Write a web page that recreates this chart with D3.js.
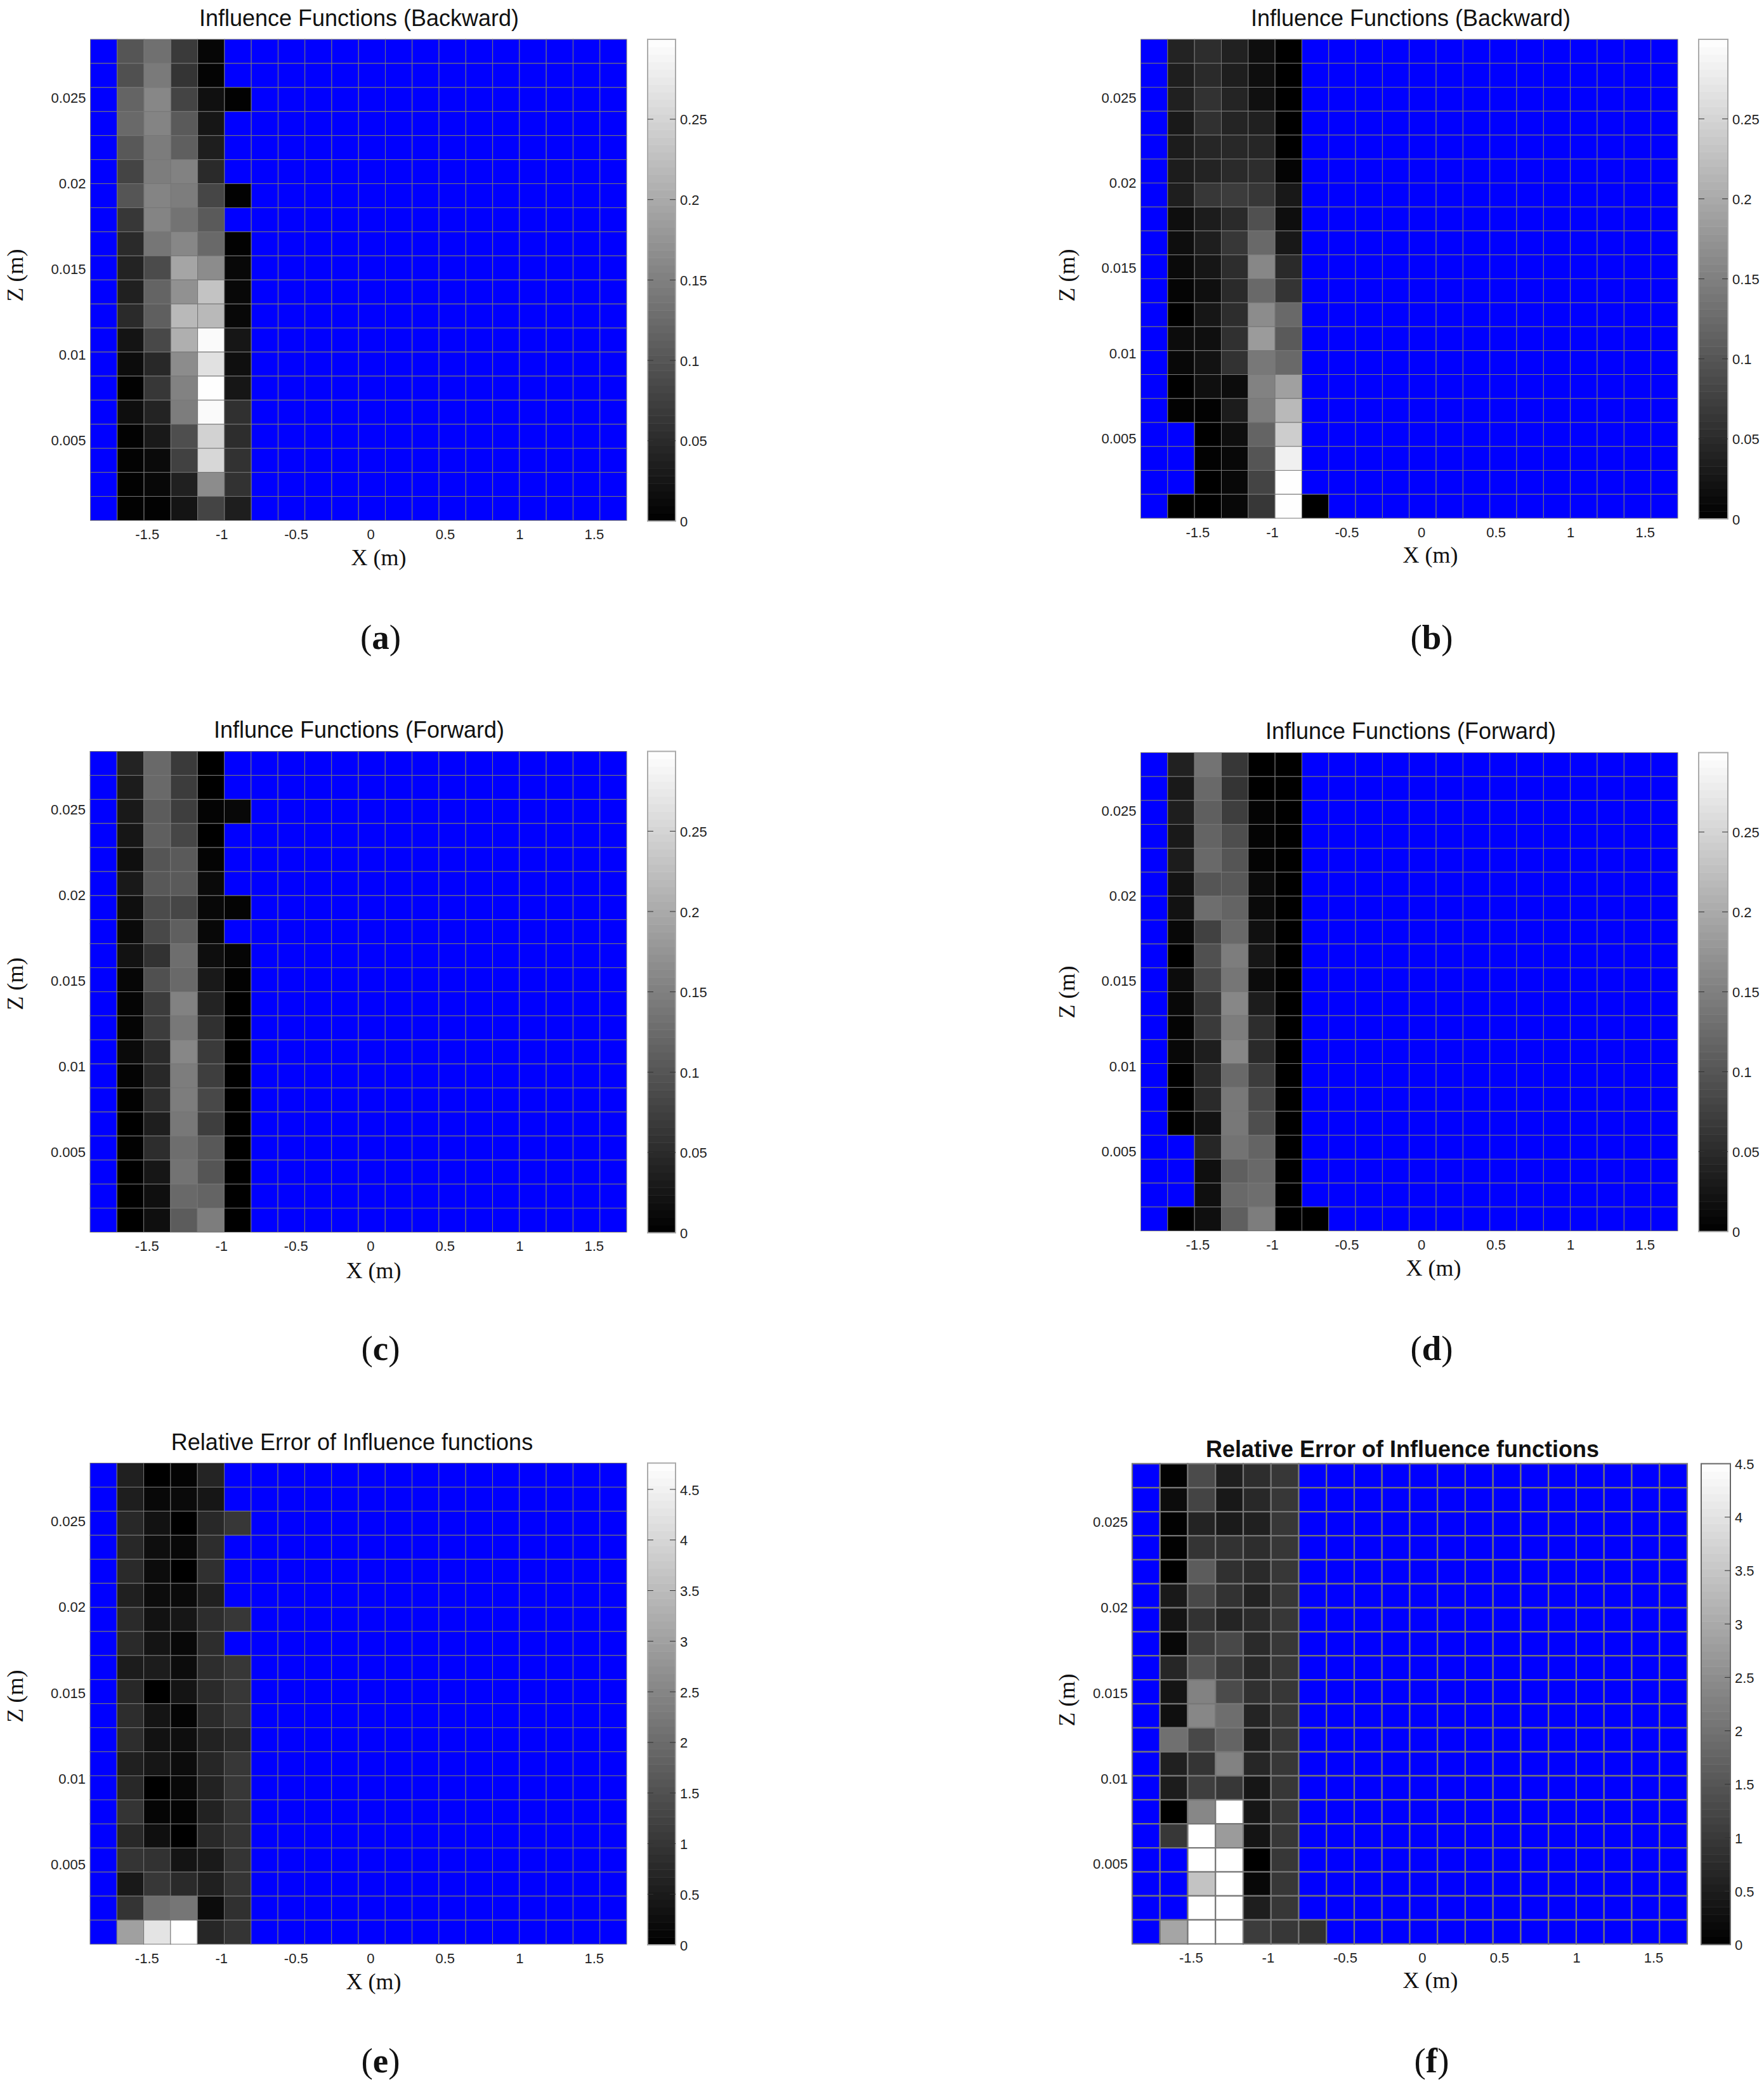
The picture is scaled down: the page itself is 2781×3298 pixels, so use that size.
<!doctype html>
<html>
<head>
<meta charset="utf-8">
<script src="https://d3js.org/d3.v7.min.js"></script>
<style>
  body { margin: 0; background: white; }
  svg { display: block; font-family: "Liberation Sans", sans-serif; }
  .tick text { font-size: 22px; fill: #222; }
  .axis-label { font-family: "Liberation Serif", serif; font-size: 36px; fill: #111; }
  .sub-label { font-family: "Liberation Serif", serif; font-size: 55px; fill: #111; }
</style>
</head>
<body>
<svg width="2781" height="3298"></svg>
<script>
// x and z extents of the grid, 20 by 20 cells
var xDomain = [-1.88, 1.72];
var zDomain = [0.00034, 0.02842];
var xTicks = [-1.5, -1, -0.5, 0, 0.5, 1, 1.5];
var zTicks = [0.005, 0.01, 0.015, 0.02, 0.025];
var barTicks = [0, 0.05, 0.1, 0.15, 0.2, 0.25];
var barTicksE = [0, 0.5, 1, 1.5, 2, 2.5, 3, 3.5, 4, 4.5];

// each list is one grid column from top to bottom, starting at the second column; null = no data (blue)
var backwardA = [
  [.100,.094,.118,.123,.103,.080,.100,.065,.049,.041,.038,.049,.024,.014,.002,.016,.002,.004,.002,.002],
  [.132,.143,.159,.155,.146,.147,.155,.155,.139,.088,.118,.112,.085,.047,.065,.041,.029,.012,.009,.002],
  [.068,.061,.080,.106,.112,.153,.147,.135,.159,.194,.170,.217,.206,.165,.153,.147,.092,.076,.038,.024],
  [.007,.005,.019,.026,.035,.049,.082,.106,.123,.165,.229,.217,.294,.264,.299,.294,.247,.253,.165,.080],
  [null,null,.002,null,null,null,.002,null,.002,.009,.009,.009,.026,.018,.026,.056,.053,.059,.059,.035]
];
var backwardB = [
  [.041,.035,.038,.029,.033,.033,.035,.016,.016,.012,.006,0,.014,.009,0,.002,null,null,null,0],
  [.053,.049,.059,.056,.045,.041,.065,.033,.035,.026,.018,.026,.018,.021,.018,.002,0,.002,0,0],
  [.039,.035,.042,.042,.047,.049,.071,.049,.065,.053,.049,.053,.056,.059,.014,.033,.016,.009,.009,.009],
  [.016,.016,.019,.038,.045,.053,.065,.094,.123,.159,.123,.165,.182,.141,.153,.147,.118,.100,.080,.065],
  [0,0,0,0,0,.005,.028,.016,.028,.049,.061,.123,.106,.123,.188,.217,.241,.282,.299,.299],
  [null,null,null,null,null,null,null,null,null,null,null,null,null,null,null,null,null,null,null,0]
];
var forwardC = [
  [.041,.033,.029,.026,.018,.029,.018,.012,.021,.007,.006,.006,.012,.005,.002,0,.002,0,0,0],
  [.123,.123,.108,.112,.100,.103,.088,.085,.059,.094,.071,.071,.049,.047,.053,.035,.053,.026,.018,.018],
  [.068,.071,.073,.082,.106,.106,.082,.112,.129,.123,.153,.141,.159,.147,.147,.141,.129,.135,.123,.108],
  [0,0,.005,0,.005,.012,.009,.009,.016,.029,.041,.056,.068,.073,.085,.073,.103,.100,.118,.147],
  [null,null,.009,null,null,null,.005,null,.006,.002,0,0,0,0,0,0,0,0,0,0]
];
var forwardD = [
  [.039,.029,.035,.029,.033,.021,.021,.009,0,.014,.009,.005,.009,0,0,0,null,null,null,0],
  [.135,.123,.112,.118,.123,.100,.129,.076,.094,.085,.065,.068,.035,.049,.049,.021,.045,.018,.018,.018],
  [.065,.061,.073,.092,.100,.103,.118,.123,.147,.139,.159,.147,.159,.123,.141,.141,.135,.112,.123,.112],
  [0,0,.005,.005,.005,.012,.012,.019,.026,.014,.033,.053,.049,.071,.085,.092,.118,.123,.129,.147],
  [0,0,0,0,0,0,0,0,0,0,0,0,0,0,0,0,0,0,0,0],
  [null,null,null,null,null,null,null,null,null,null,null,null,null,null,null,null,null,null,null,0]
];
var errorE = [
  [.60,.56,.75,.75,.78,.60,.78,.78,.52,.75,.84,.84,.60,.75,.97,.75,.97,.47,.97,2.99],
  [0,.15,.34,.26,.22,.22,.34,.37,.52,0,.37,.34,.41,0,.09,.28,.93,1.03,2.05,4.26],
  [.07,.19,0,.15,0,.19,.41,.15,.22,.37,.07,.26,.22,.15,.07,0,.37,.78,2.20,4.76],
  [.67,.41,.75,.84,.90,.60,.84,.84,.84,.78,.78,.63,.71,.63,.63,.75,.49,.60,.22,.71],
  [null,null,1.03,null,null,null,1.03,null,1.03,1.03,1.03,.78,1.03,1.03,.97,.97,.97,.97,.90,.97]
];
var errorF = [
  [.04,.21,.04,.04,0,.44,.35,.14,.67,.35,.26,1.98,.56,.49,0,.97,null,null,null,2.91],
  [1.32,1.20,.62,.92,1.62,1.27,.88,1.09,1.45,2.29,2.38,1.27,.92,1.09,2.38,4.5,4.5,3.44,4.5,4.5],
  [.53,.42,.46,.88,.85,.88,.64,1.27,1.06,1.32,1.94,1.76,2.29,.97,4.5,2.74,4.5,4.5,4.5,4.5],
  [.79,.71,.56,.79,.74,.60,.74,.74,.71,.85,.64,.53,.67,.39,.39,.35,0,.14,.53,1.06],
  [.97,.97,.97,.97,.97,.97,.97,.97,.97,.97,.97,.97,.97,.97,.97,.97,.97,.97,.97,.97],
  [null,null,null,null,null,null,null,null,null,null,null,null,null,null,null,null,null,null,null,.88]
];

var panels = [
  { name: "a", title: "Influence Functions (Backward)", data: backwardA, max: 0.2997, ticks: barTicks,
    l: 142.5, r: 988, t: 62, b: 820.5, barL: 1021, barR: 1065, titleX: 566, titleY: 31, xLabelX: 597, xLabelY: 883, zLabelX: 28, zLabelY: 434, subX: 600, subY: 1010 },
  { name: "b", title: "Influence Functions (Backward)", data: backwardB, max: 0.2997, ticks: barTicks,
    l: 1798.5, r: 2645, t: 62, b: 817, barL: 2678, barR: 2724, titleX: 2224, titleY: 31, xLabelX: 2255, xLabelY: 879, zLabelX: 1686, zLabelY: 434, subX: 2257, subY: 1010 },
  { name: "c", title: "Influnce Functions (Forward)", data: forwardC, max: 0.2997, ticks: barTicks,
    l: 142, r: 988, t: 1184.5, b: 1942.5, barL: 1021, barR: 1065, titleX: 566, titleY: 1153, xLabelX: 589, xLabelY: 2007, zLabelX: 28, zLabelY: 1551, subX: 600, subY: 2131 },
  { name: "d", title: "Influnce Functions (Forward)", data: forwardD, max: 0.2997, ticks: barTicks,
    l: 1798.5, r: 2645, t: 1186.5, b: 1940.5, barL: 2678, barR: 2724, titleX: 2224, titleY: 1155, xLabelX: 2260, xLabelY: 2003, zLabelX: 1686, zLabelY: 1564, subX: 2257, subY: 2131 },
  { name: "e", title: "Relative Error of Influence functions", data: errorE, max: 4.76, ticks: barTicksE,
    l: 142, r: 988, t: 2306.5, b: 3065, barL: 1021, barR: 1065, titleX: 555, titleY: 2276, xLabelX: 589, xLabelY: 3128, zLabelX: 28, zLabelY: 2674, subX: 600, subY: 3254 },
  { name: "f", title: "Relative Error of Influence functions", data: errorF, max: 4.5, ticks: barTicksE, bold: true,
    l: 1785, r: 2660, t: 2307.5, b: 3064.5, barL: 2682, barR: 2728, titleX: 2211, titleY: 2287, xLabelX: 2255, xLabelY: 3126, zLabelX: 1686, zLabelY: 2680, subX: 2257, subY: 3254 }
];

var svg = d3.select("svg");

panels.forEach(function (p) {
  var x = d3.scaleLinear().domain(xDomain).range([p.l, p.r]);
  var z = d3.scaleLinear().domain(zDomain).range([p.b, p.t]);
  var shade = d3.scaleLinear().domain([0, p.max]).range(["#000", "#fff"]);

  var dx = (xDomain[1] - xDomain[0]) / 20;
  var dz = (zDomain[1] - zDomain[0]) / 20;
  var cells = [];
  d3.range(20).forEach(function (i) {
    d3.range(20).forEach(function (j) {
      var col = p.data[i - 1];
      var v = col ? col[j] : null;
      cells.push({ x0: xDomain[0] + i * dx, z1: zDomain[1] - j * dz, v: v });
    });
  });

  var g = svg.append("g").attr("class", "panel-" + p.name);

  g.append("g").selectAll("rect")
    .data(cells)
    .join("rect")
    .attr("x", function (d) { return x(d.x0); })
    .attr("y", function (d) { return z(d.z1); })
    .attr("width", x(xDomain[0] + dx) - x(xDomain[0]))
    .attr("height", z(zDomain[0]) - z(zDomain[0] + dz))
    .attr("fill", function (d) { return d.v === null || d.v === undefined ? "#0000ff" : shade(d.v); })
    .attr("stroke", "#777")
    .attr("stroke-width", p.bold ? 2.2 : 1);

  var xAxis = d3.axisBottom(x).tickValues(xTicks).tickSize(0).tickPadding(14).tickFormat(String);
  g.append("g").attr("transform", "translate(0," + p.b + ")").call(xAxis)
    .call(function (a) { a.select(".domain").remove(); });

  var zAxis = d3.axisLeft(z).tickValues(zTicks).tickSize(0).tickPadding(7).tickFormat(String);
  g.append("g").attr("transform", "translate(" + p.l + ",0)").call(zAxis)
    .call(function (a) { a.select(".domain").remove(); });

  // colour bar, 64 grey bands like the matlab colormap
  var barY = d3.scaleLinear().domain([0, p.max]).range([p.b + 1, p.t]);
  var bar = g.append("g");
  bar.selectAll("rect")
    .data(d3.range(64))
    .join("rect")
    .attr("x", p.barL)
    .attr("width", p.barR - p.barL)
    .attr("y", function (d) { return barY((d + 1) / 64 * p.max); })
    .attr("height", function (d) { return barY(d / 64 * p.max) - barY((d + 1) / 64 * p.max) + 0.5; })
    .attr("fill", function (d) { return shade((d + 0.5) / 64 * p.max); });
  bar.append("rect")
    .attr("x", p.barL).attr("y", barY(p.max))
    .attr("width", p.barR - p.barL).attr("height", barY(0) - barY(p.max))
    .attr("fill", "none").attr("stroke", p.bold ? "#666" : "#aaa").attr("stroke-width", 2);

  var barAxis = d3.axisRight(barY).tickValues(p.ticks).tickSize(0).tickPadding(7).tickFormat(String);
  g.append("g").attr("transform", "translate(" + p.barR + ",1)").call(barAxis)
    .call(function (a) { a.select(".domain").remove(); });

  // short tick marks inside the bar
  var marks = p.ticks.filter(function (t) { return t > 0 && t < p.max; });
  bar.selectAll("line.r").data(marks).join("line").attr("class", "r")
    .attr("x1", p.barR - 9).attr("x2", p.barR)
    .attr("y1", barY).attr("y2", barY).attr("stroke", "#333").attr("stroke-width", 1);
  if (!p.bold) {
    bar.selectAll("line.l").data(marks).join("line").attr("class", "l")
      .attr("x1", p.barL).attr("x2", p.barL + 9)
      .attr("y1", barY).attr("y2", barY).attr("stroke", "#333").attr("stroke-width", 1);
  }

  g.append("text")
    .attr("x", p.titleX).attr("y", p.titleY)
    .attr("text-anchor", "middle").attr("dominant-baseline", "middle")
    .attr("font-size", 36)
    .attr("font-weight", p.bold ? "bold" : "normal")
    .attr("fill", "#111")
    .text(p.title);

  g.append("text").attr("class", "axis-label")
    .attr("x", p.xLabelX).attr("y", p.xLabelY)
    .attr("text-anchor", "middle").attr("dominant-baseline", "middle")
    .text("X (m)");

  g.append("text").attr("class", "axis-label")
    .attr("text-anchor", "middle").attr("dominant-baseline", "middle")
    .attr("transform", "translate(" + p.zLabelX + "," + p.zLabelY + ") rotate(-90)")
    .text("Z (m)");

  var sub = g.append("text").attr("class", "sub-label")
    .attr("x", p.subX).attr("y", p.subY)
    .attr("text-anchor", "middle").attr("dominant-baseline", "middle");
  sub.append("tspan").text("(");
  sub.append("tspan").attr("font-weight", "bold").text(p.name);
  sub.append("tspan").text(")");
});
</script>
</body>
</html>
